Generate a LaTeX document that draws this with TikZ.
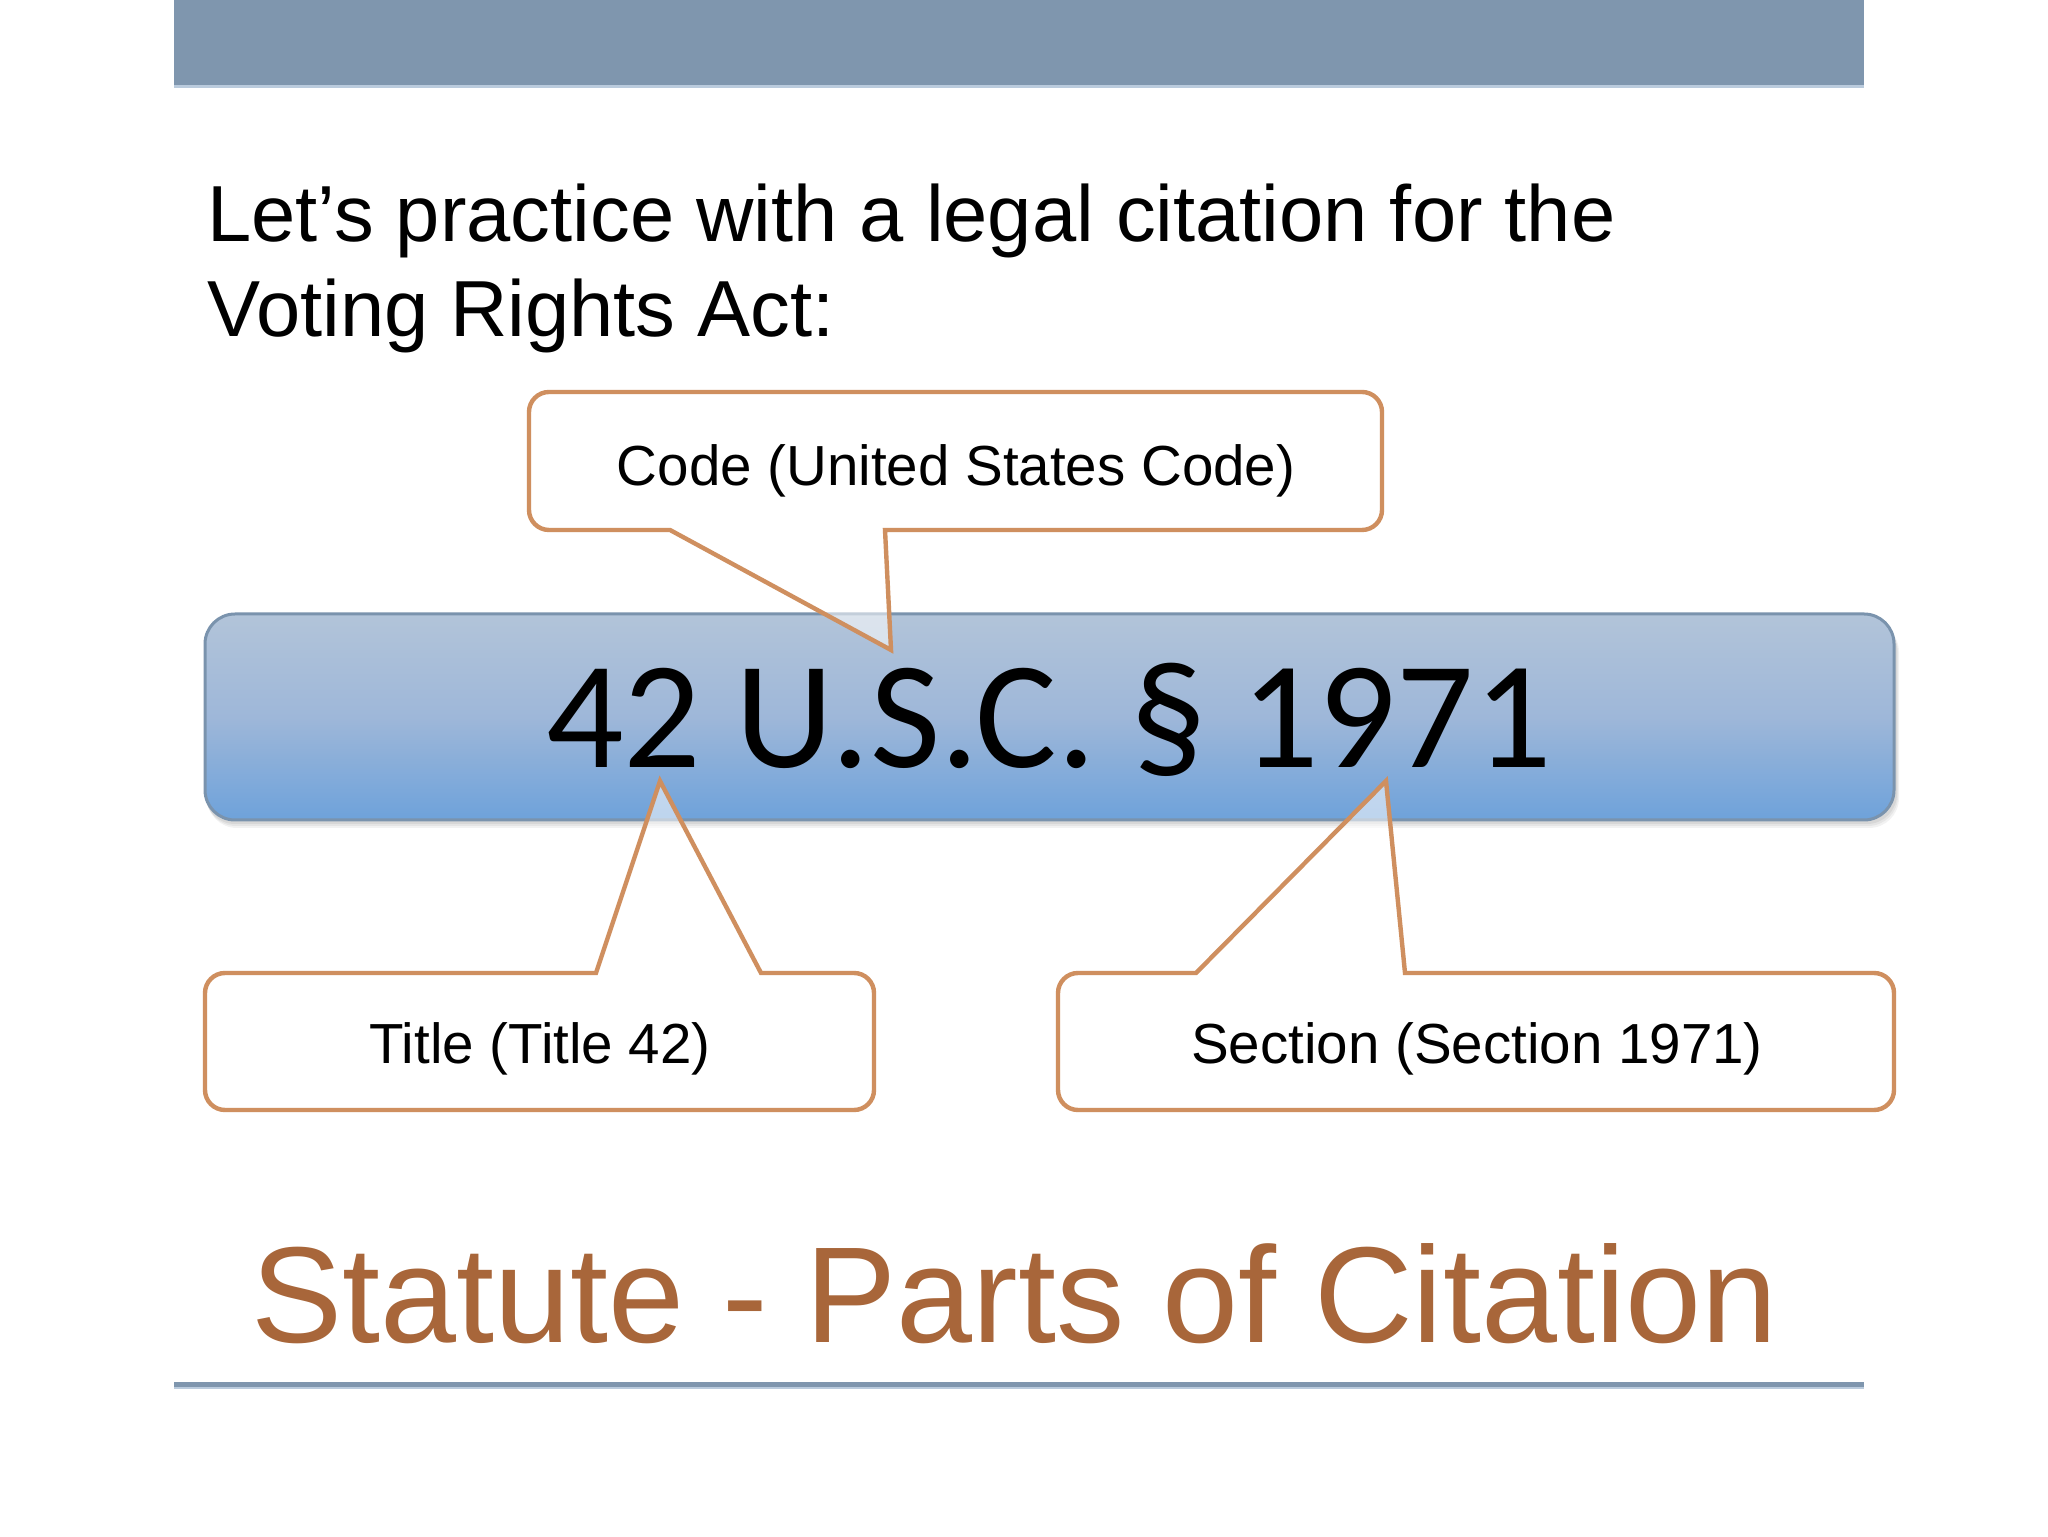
\documentclass[tikz,border=0pt]{standalone}
\usepackage{fontspec}
\setmainfont{Liberation Sans}
\newfontfamily\citefont{Carlito}
\definecolor{bandblue}{HTML}{7F96AE}
\definecolor{bandlight}{HTML}{BACBDD}
\definecolor{boxtop}{HTML}{B2C4D9}
\definecolor{boxmid}{HTML}{9EB7D9}
\definecolor{boxbot}{HTML}{6EA2DA}
\definecolor{boxedge}{HTML}{7A93AD}
\definecolor{calloutedge}{HTML}{CF8F5F}
\definecolor{titlebrown}{HTML}{A8663A}
\tikzset{
  callout/.style={draw=calloutedge, line width=2.2pt, fill=white, fill opacity=0.55, line join=miter},
  callouttext/.style={anchor=base, font=\fontsize{28.25}{34}\selectfont, text=black, inner sep=0pt},
}
\begin{document}
\begin{tikzpicture}[x=0.5pt,y=0.5pt]
\useasboundingbox (0,0) rectangle (2048,1536);
\fill[white] (0,0) rectangle (2048,1536);
% top band
\fill[bandblue] (174,1451) rectangle (1864,1536);
\fill[bandlight] (174,1448) rectangle (1864,1451);
% heading
\node[anchor=base west, inner sep=0pt, font=\fontsize{39.75}{47}\selectfont] (head1) at (207,1294) {Let’s practice with a legal citation for the};
\node[anchor=base west, inner sep=0pt, font=\fontsize{39.75}{47}\selectfont] (head2) at (207,1199) {Voting Rights Act:};
% citation box shadow
\fill[black, opacity=0.05, rounded corners=15pt] (207,708) rectangle (1899,914);
\fill[black, opacity=0.05, rounded corners=15pt] (206,710) rectangle (1898,914);
\fill[black, opacity=0.06, rounded corners=15pt] (205,712) rectangle (1897,916);
% citation box
\shade[rounded corners=15pt, top color=boxtop, bottom color=boxbot, middle color=boxmid] (205,716) rectangle (1894,922);
\draw[boxedge, line width=1.5pt, rounded corners=15pt] (205,716) rectangle (1894,922);
\node[anchor=base, inner sep=0pt, font=\citefont\fontsize{76.5}{90}\selectfont] (cite) at (1049,768) {42 U.S.C. § 1971};
% code callout
\draw[callout] (670,1006) -- (891,886) -- (885,1006) -- (1362,1006)
  arc[start angle=270,end angle=360,radius=10pt] -- (1382,1124)
  arc[start angle=0,end angle=90,radius=10pt] -- (549,1144)
  arc[start angle=90,end angle=180,radius=10pt] -- (529,1026)
  arc[start angle=180,end angle=270,radius=10pt] -- cycle;
\node[callouttext] (code) at (956,1050) {Code (United States Code)};
% title callout
\draw[callout] (761,563) -- (660,755) -- (596,563) -- (225,563)
  arc[start angle=90,end angle=180,radius=10pt] -- (205,446)
  arc[start angle=180,end angle=270,radius=10pt] -- (854,426)
  arc[start angle=270,end angle=360,radius=10pt] -- (874,543)
  arc[start angle=0,end angle=90,radius=10pt] -- cycle;
\node[callouttext] (title) at (540,472) {Title (Title 42)};
% section callout
\draw[callout] (1405,563) -- (1386,755) -- (1196,563) -- (1078,563)
  arc[start angle=90,end angle=180,radius=10pt] -- (1058,446)
  arc[start angle=180,end angle=270,radius=10pt] -- (1874,426)
  arc[start angle=270,end angle=360,radius=10pt] -- (1894,543)
  arc[start angle=0,end angle=90,radius=10pt] -- cycle;
\node[callouttext] (section) at (1477,472) {Section (Section 1971)};
% bottom title
\node[anchor=base west, inner sep=0pt, text=titlebrown, font=\fontsize{68.3}{80}\selectfont] (slidetitle) at (251,194) {Statute - Parts of Citation};
\fill[bandblue] (174,149.5) rectangle (1864,154.5);
\fill[bandlight] (174,147.5) rectangle (1864,149.5);
\end{tikzpicture}
\end{document}
